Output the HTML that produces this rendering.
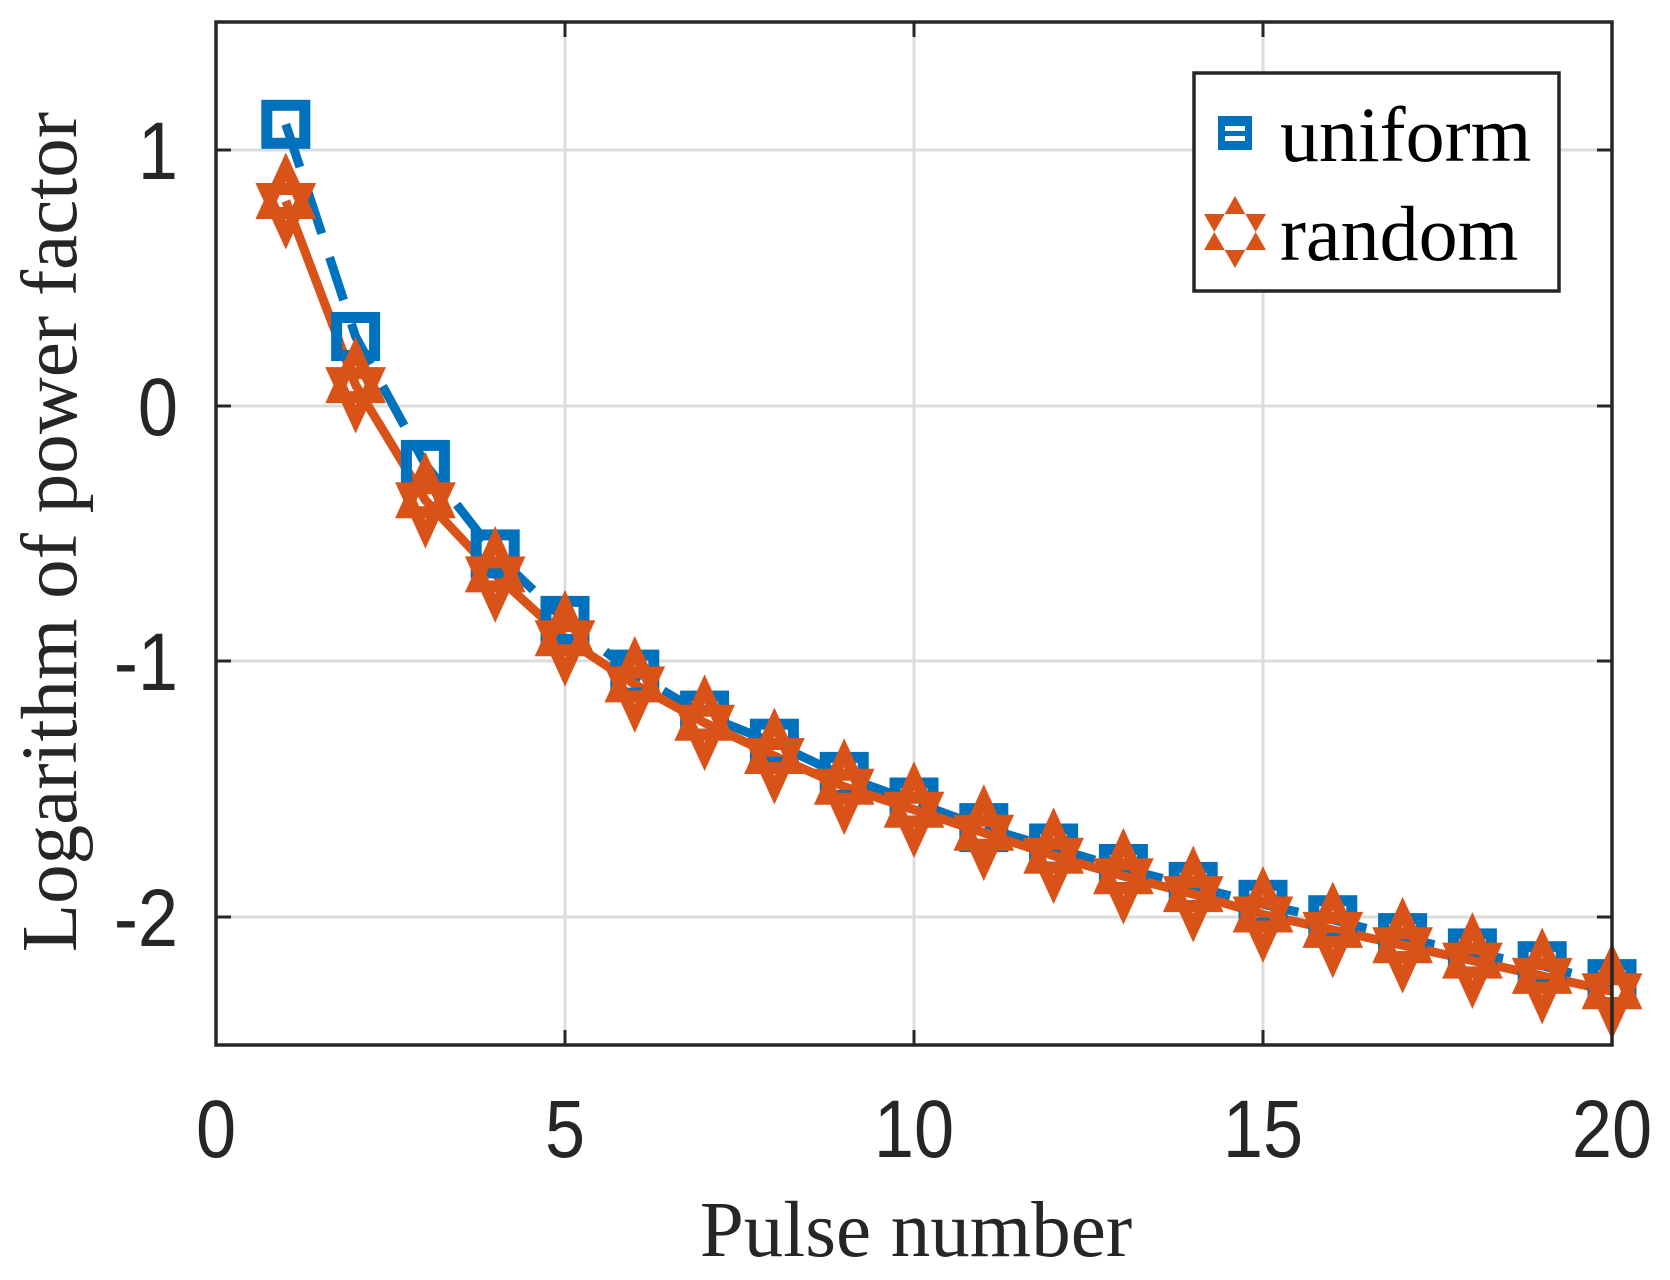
<!DOCTYPE html>
<html><head><meta charset="utf-8"><style>html,body{margin:0;padding:0;background:#fff;}svg{display:block}</style></head>
<body>
<svg width="1670" height="1280" viewBox="0 0 1670 1280" xmlns="http://www.w3.org/2000/svg">
<defs>
<g id="sq"><rect x="-19" y="-19" width="38" height="38" fill="none" stroke="#0072BD" stroke-width="11"/></g>
<g id="hx"><path d="M0,-34 L21,12 L-21,12 Z M0,34 L21,-12 L-21,-12 Z" fill="none" stroke="#D95319" stroke-width="12" stroke-linejoin="miter"/></g>
</defs>
<rect width="1670" height="1280" fill="#fff"/>
<g stroke="#dcdcdc" stroke-width="3">
<line x1="565" y1="22" x2="565" y2="1045"/><line x1="914" y1="22" x2="914" y2="1045"/><line x1="1263" y1="22" x2="1263" y2="1045"/>
<line x1="216" y1="150" x2="1612" y2="150"/><line x1="216" y1="406" x2="1612" y2="406"/><line x1="216" y1="661" x2="1612" y2="661"/><line x1="216" y1="917" x2="1612" y2="917"/>
</g>
<g stroke="#262626" stroke-width="3">
<line x1="565" y1="1045" x2="565" y2="1030"/><line x1="914" y1="1045" x2="914" y2="1030"/><line x1="1263" y1="1045" x2="1263" y2="1030"/>
<line x1="565" y1="22" x2="565" y2="37"/><line x1="914" y1="22" x2="914" y2="37"/><line x1="1263" y1="22" x2="1263" y2="37"/>
<line x1="216" y1="150" x2="231" y2="150"/><line x1="216" y1="406" x2="231" y2="406"/><line x1="216" y1="661" x2="231" y2="661"/><line x1="216" y1="917" x2="231" y2="917"/>
<line x1="1612" y1="150" x2="1597" y2="150"/><line x1="1612" y1="406" x2="1597" y2="406"/><line x1="1612" y1="661" x2="1597" y2="661"/><line x1="1612" y1="917" x2="1597" y2="917"/>
</g>
<polyline fill="none" stroke="#0072BD" stroke-width="9" stroke-dasharray="45,25" points="285.8,124.3 355.6,336.5 425.4,464.4 495.2,553.9 565,620.4 634.8,674.1 704.6,715.1 774.4,743.2 844.2,776.4 914,802 983.8,827.6 1053.6,848 1123.4,868.5 1193.2,886.4 1263,904.3 1332.8,919.7 1402.6,937.6 1472.4,952.9 1542.2,965.7 1612,983.6"/>
<polyline fill="none" stroke="#D95319" stroke-width="9" points="285.8,201 355.6,385.1 425.4,500.2 495.2,574.4 565,638.3 634.8,684.4 704.6,722.7 774.4,756 844.2,786.7 914,809.7 983.8,832.7 1053.6,855.7 1123.4,876.2 1193.2,894.1 1263,914.5 1332.8,929.9 1402.6,945.2 1472.4,960.6 1542.2,975.9 1612,991.3"/>
<g>
<use href="#sq" x="285.8" y="124.3"/><use href="#sq" x="355.6" y="336.5"/><use href="#sq" x="425.4" y="464.4"/><use href="#sq" x="495.2" y="553.9"/><use href="#sq" x="565" y="620.4"/><use href="#sq" x="634.8" y="674.1"/><use href="#sq" x="704.6" y="715.1"/><use href="#sq" x="774.4" y="743.2"/><use href="#sq" x="844.2" y="776.4"/><use href="#sq" x="914" y="802"/><use href="#sq" x="983.8" y="827.6"/><use href="#sq" x="1053.6" y="848"/><use href="#sq" x="1123.4" y="868.5"/><use href="#sq" x="1193.2" y="886.4"/><use href="#sq" x="1263" y="904.3"/><use href="#sq" x="1332.8" y="919.7"/><use href="#sq" x="1402.6" y="937.6"/><use href="#sq" x="1472.4" y="952.9"/><use href="#sq" x="1542.2" y="965.7"/><use href="#sq" x="1612" y="983.6"/>
</g>
<g>
<use href="#hx" x="285.8" y="201"/><use href="#hx" x="355.6" y="385.1"/><use href="#hx" x="425.4" y="500.2"/><use href="#hx" x="495.2" y="574.4"/><use href="#hx" x="565" y="638.3"/><use href="#hx" x="634.8" y="684.4"/><use href="#hx" x="704.6" y="722.7"/><use href="#hx" x="774.4" y="756"/><use href="#hx" x="844.2" y="786.7"/><use href="#hx" x="914" y="809.7"/><use href="#hx" x="983.8" y="832.7"/><use href="#hx" x="1053.6" y="855.7"/><use href="#hx" x="1123.4" y="876.2"/><use href="#hx" x="1193.2" y="894.1"/><use href="#hx" x="1263" y="914.5"/><use href="#hx" x="1332.8" y="929.9"/><use href="#hx" x="1402.6" y="945.2"/><use href="#hx" x="1472.4" y="960.6"/><use href="#hx" x="1542.2" y="975.9"/><use href="#hx" x="1612" y="991.3"/>
</g>
<rect x="216" y="22" width="1396" height="1023" fill="none" stroke="#262626" stroke-width="3.5"/>
<g font-family="Liberation Sans, sans-serif" font-size="82" fill="#262626">
<g text-anchor="middle">
<text transform="translate(216,1157) scale(0.88,1)">0</text>
<text transform="translate(565,1157) scale(0.88,1)">5</text>
<text transform="translate(914,1157) scale(0.88,1)">10</text>
<text transform="translate(1263,1157) scale(0.88,1)">15</text>
<text transform="translate(1612,1157) scale(0.88,1)">20</text>
</g>
<g text-anchor="end">
<text transform="translate(178,179) scale(0.88,1)">1</text>
<text transform="translate(178,435) scale(0.88,1)">0</text>
<text transform="translate(178,690) scale(0.88,1)">-1</text>
<text transform="translate(178,946) scale(0.88,1)">-2</text>
</g>
</g>
<text x="916" y="1256" text-anchor="middle" font-family="Liberation Serif, serif" font-size="79" fill="#262626">Pulse number</text>
<text transform="translate(76,532) rotate(-90)" text-anchor="middle" font-family="Liberation Serif, serif" font-size="79" fill="#262626">Logarithm of power factor</text>
<rect x="1194" y="73" width="365" height="218" fill="#fff" stroke="#262626" stroke-width="3.5"/>
<rect x="1218" y="116" width="34" height="34" fill="#0072BD"/>
<rect x="1225" y="126" width="20" height="5" fill="#fff"/><rect x="1225" y="136" width="20" height="5" fill="#fff"/>
<path d="M1235,196 L1266,250 L1204,250 Z M1235,268 L1266,214 L1204,214 Z" fill="#D95319"/>
<text x="1280" y="161" font-family="Liberation Serif, serif" font-size="78" fill="#000">uniform</text>
<text x="1280" y="260" font-family="Liberation Serif, serif" font-size="78" fill="#000">random</text>
</svg>
</body></html>
